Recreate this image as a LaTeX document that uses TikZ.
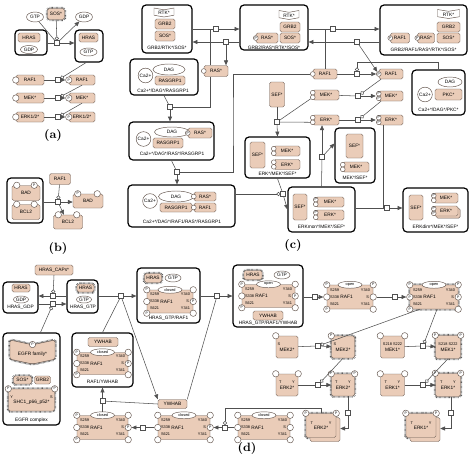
\documentclass[tikz,border=0pt]{standalone}
\usepackage{fontspec}
\newfontfamily\sbgnfont{Liberation Sans}
\usetikzlibrary{positioning, arrows.meta, shapes.geometric, calc, shadows}
\definecolor{molfill}{RGB}{234,204,184}
\definecolor{molline}{RGB}{100,86,78}
\definecolor{linec}{RGB}{80,80,80}
\definecolor{halocol}{RGB}{95,95,95}
\newcommand{\molfont}{\sbgnfont\fontsize{3.6}{4.1}\selectfont}
\newcommand{\svfont}{\sbgnfont\fontsize{2.6}{3}\selectfont}
\newcommand{\sitefont}{\sbgnfont\fontsize{2.9}{3.3}\selectfont}
% RAF1 with its sites
\newcommand{\rafbody}[4]{%
  \node[mol, wh={52}{24}, #3] (#1) at (#2) {};
  \node[site, anchor=west] (#1-s259) at ($(#1.west)+(3,-7)$) {S259};
  \node[site, anchor=east] (#1-y340) at ($(#1.east)+(-3,-7)$) {Y340};
  \node[site, anchor=west] (#1-s338) at ($(#1.west)+(3,0)$) {S338};
  \node[lbl, anchor=west] (#1-name) at (#1-s338.east) {\,RAF1};
  \node[site, anchor=east] (#1-s) at ($(#1.east)+(-4,0)$) {S};
  \node[site, anchor=west] (#1-s621) at ($(#1.west)+(3,7)$) {S621};
  \node[site, anchor=east] (#1-y341) at ($(#1.east)+(-3,7)$) {Y341};
  \node[simple, wh={24}{7}, font=\sitefont] (#1-conf) at (#1.north) {#4};
}
\newcommand{\rafstates}[7]{%
  \node[sv] (#1-tl) at (#1.north west) {#2};
  \node[sv] (#1-tr) at (#1.north east) {#3};
  \node[sv] (#1-lm) at (#1.west) {#4};
  \node[sv] (#1-rm) at (#1.east) {#5};
  \node[sv] (#1-bl) at (#1.south west) {#6};
  \node[sv] (#1-br) at (#1.south east) {#7};
}
\newcommand{\twosv}[3]{%
  \node[svs] (#1-a) at ($(#1.west)+(0,-2.3)$) {#2};
  \node[svs] (#1-b) at ($(#1.west)+(0,2.3)$) {#3};
}
\newcommand{\sqmol}[5]{%
  \node[mol, wh={23}{22}, align=center, #3] (#1) at (#2) {{\sitefont #4}\\#5};
}
\newcommand{\receptor}[6]{%
  \coordinate (#1) at (#2);
  \draw[#5] ($(#1)+(-#3,-#4)$) -- ($(#1)+(0,-0.6*#4)$) -- ($(#1)+(#3,-#4)$) -- ($(#1)+(#3,0.6*#4)$) -- ($(#1)+(0,#4)$) -- ($(#1)+(-#3,0.6*#4)$) -- cycle;
  \node[lbl] (#1-t) at ($(#1)+(0,0.15*#4)$) {#6};
}

\begin{document}
\begin{tikzpicture}[x=0.75pt,y=0.75pt,yscale=-1,xscale=1,
  wh/.style 2 args={minimum width=#1*0.75pt, minimum height=#2*0.75pt},
  mol/.style={draw=molline, fill=molfill, rounded corners=1.2pt, inner sep=0pt, line width=0.35pt, font=\molfont},
  cplx/.style={draw=black, fill=white, rounded corners=3pt, line width=0.9pt, inner sep=0pt},
  simple/.style={ellipse, draw=molline, fill=white, inner sep=0pt, line width=0.35pt, font=\molfont},
  ion/.style={circle, draw=molline, fill=white, inner sep=0pt, minimum size=11pt, line width=0.35pt, font=\molfont},
  sv/.style={circle, draw=molline, fill=white, inner sep=0pt, minimum size=4.8pt, line width=0.35pt, font=\svfont},
  svs/.style={sv, minimum size=3.6pt},
  site/.style={inner sep=0pt, font=\sitefont},
  lbl/.style={inner sep=0pt, font=\molfont},
  rcpt/.style={draw=molline, fill=white, line width=0.35pt},
  proc/.style={draw=linec, fill=white, inner sep=0pt, minimum size=3.4pt, line width=0.4pt},
  halo/.style={preaction={draw=halocol, line width=2.3pt, dash pattern=on 0.4pt off 0.55pt}},
  conn/.style={draw=linec, line width=0.4pt},
  prod/.style={conn, -{Triangle[length=3.6pt, width=3pt]}},
  catal/.style={conn, -{Circle[open, length=3pt]}},
  panel/.style={inner sep=0pt, font=\bfseries\fontsize{9}{10}\selectfont}]
\path[use as bounding box, fill=white] (0,0) rectangle (474,472);

%%% Panel (a)
%Shape: Complex
\node[cplx, wh={32}{25}] (a-gdpc) at (31,42.5) {};
\node[mol, wh={22}{9}] (a-hras1) at (29,37.5) {HRAS};
\node[simple, wh={17}{8}] (a-gdp1) at (29,49.5) {GDP};
%Shape: Complex
\node[cplx, wh={28}{32}] (a-gtpc) at (89,46) {};
\node[mol, wh={19}{9}] (a-hras2) at (88.5,37.5) {HRAS};
\node[simple, wh={17}{8}] (a-gtp2) at (88.5,52) {GTP};
\node[mol, halo, wh={17}{11}] (a-sos) at (56,14) {SOS*};
\node[simple, wh={17}{10}] (a-gtp) at (35,17) {GTP};
\node[simple, wh={17}{10}] (a-gdp) at (84,17) {GDP};
\node[proc] (a-p0) at (57,43) {};
\draw[conn] (a-gdpc.east |- a-p0) -- (a-p0);
\draw[prod] (a-p0) -- (a-p0 -| a-gtpc.west);
\draw[conn] (a-gtp) -- (a-p0);
\draw[prod] (a-p0) -- (a-gdp);
\draw[catal] (a-sos) -- (a-p0);
% RAF1 row
\node[mol, wh={28}{10}] (a-raf) at (30,80) {RAF1};
\node[sv] (a-raf-s) at (a-raf.west) {};
\node[proc] (a-p1) at (58,80) {};
\node[mol, wh={26}{10}] (a-rafp) at (82,80) {RAF1};
\node[sv] (a-rafp-s) at (a-rafp.west) {P};
\draw[conn] (a-raf) -- (a-p1);
\draw[prod] (a-p1) -- (a-rafp-s);
\draw[catal] ($(a-gtpc.south)+(-3,0)$) -- (a-p1);
% MEK row
\node[mol, wh={28}{10}] (a-mek) at (30,98) {MEK*};
\node[sv] (a-mek-s) at (a-mek.west) {};
\node[proc] (a-p2) at (58,98) {};
\node[mol, wh={26}{10}] (a-mekp) at (82,98) {MEK*};
\node[sv] (a-mekp-s) at (a-mekp.west) {P};
\draw[conn] (a-mek) -- (a-p2);
\draw[prod] (a-p2) -- (a-mekp-s);
\draw[catal] (a-rafp.south) -- (a-p2);
% ERK row
\node[mol, wh={28}{10}] (a-erk) at (30,117) {ERK1/2*};
\node[sv] (a-erk-s) at (a-erk.west) {};
\node[proc] (a-p3) at (58,117) {};
\node[mol, wh={26}{10}] (a-erkp) at (82,117) {ERK1/2*};
\node[sv] (a-erkp-s) at (a-erkp.west) {P};
\draw[conn] (a-erk) -- (a-p3);
\draw[prod] (a-p3) -- (a-erkp-s);
\draw[catal] (a-mekp.south) -- (a-p3);
% Text Node
\node[panel] (a-lbl) at (53,135) {(a)};

%%% Panel (b)
\node[cplx, wh={36}{45}] (b-cx) at (25,200.5) {};
\node[mol, wh={28}{15}] (b-bad1) at (26,193) {BAD};
\node[sv] (b-bad1-a) at ($(b-bad1.north west)+(5,0)$) {};
\node[sv] (b-bad1-b) at ($(b-bad1.north east)+(-6,0)$) {P};
\node[mol, wh={28}{15}] (b-bcl1) at (26,212) {BCL2};
\node[sv] (b-bcl1-a) at ($(b-bcl1.north west)+(5,0)$) {};
\node[sv] (b-bcl1-b) at ($(b-bcl1.north east)+(-6,0)$) {};
\node[mol, wh={21}{11}] (b-raf) at (60,179) {RAF1};
\node[proc] (b-p) at (58,202) {};
\node[mol, wh={30}{14}] (b-bad2) at (88,201) {BAD};
\node[sv] (b-bad2-a) at ($(b-bad2.north west)+(5,0)$) {P};
\node[sv] (b-bad2-b) at ($(b-bad2.north east)+(-6,0)$) {};
\node[mol, wh={29}{14}] (b-bcl2) at (68,222) {BCL2};
\node[sv] (b-bcl2-a) at ($(b-bcl2.north west)+(5,0)$) {};
\node[sv] (b-bcl2-b) at ($(b-bcl2.north east)+(-6,0)$) {};
\draw[conn] (b-cx.east |- b-p) -- (b-p);
\draw[prod] (b-p) -- (b-bad2.west |- b-p);
\draw[prod] (b-p) -- ($(b-bcl2.north)+(-4,0)$);
\draw[catal] (b-raf) -- (b-p);
% Text Node
\node[panel] (b-lbl) at (58,248) {(b)};

%%% Panel (c)
%Shape: Complex GRB2/RTK*/SOS*
\node[cplx, wh={50}{48}] (c-gs) at (167,29) {};
\receptor{c-rtk1}{164,12.5}{10}{4.5}{rcpt}{RTK*}
\node[mol, wh={20}{10}] (c-grb1) at (165,24) {GRB2};
\node[mol, wh={20}{10}] (c-sos1) at (165,36) {SOS*};
\node[lbl] (c-gs-l) at (167,47.5) {GRB2/RTK*/SOS*};
%Shape: Complex GRB2/RAS*/RTK*/SOS*
\node[cplx, wh={68}{45}] (c-grs) at (274,27.5) {};
\receptor{c-rtk2}{289,15}{10}{4.5}{rcpt}{RTK*}
\node[mol, wh={20}{10}] (c-grb2) at (290,27) {GRB2};
\node[mol, wh={20}{10}] (c-sos2) at (290,38) {SOS*};
\node[mol, wh={22}{10}] (c-ras1) at (267,38) {RAS*};
\node[svs] (c-ras1-s) at (c-ras1.west) {P};
\node[lbl] (c-grs-l) at (274,47.5) {GRB2/RAS*/RTK*/SOS*};
%Shape: Complex GRB2/RAF1/RAS*/RTK*/SOS*
\node[cplx, wh={87}{50}] (c-bigc) at (423.5,30) {};
\receptor{c-rtk3}{448.5,14}{11}{4.5}{rcpt}{RTK*}
\node[mol, wh={23}{10}] (c-grb3) at (448.5,27) {GRB2};
\node[mol, wh={23}{10}] (c-sos3) at (448.5,38) {SOS*};
\node[mol, wh={19}{10}] (c-raf4) at (400,38) {RAF1};
\node[svs] (c-raf4-s) at (c-raf4.west) {P};
\node[mol, wh={17}{10}] (c-ras4) at (426,38) {RAS*};
\node[svs] (c-ras4-s) at (c-ras4.west) {P};
\node[lbl] (c-bigc-l) at (423.5,50) {GRB2/RAF1/RAS*/RTK*/SOS*};
% RAS*
\node[mol, wh={24}{11}] (c-ras) at (216,71) {RAS*};
\node[svs] (c-ras-s) at (c-ras.west) {};
\node[proc] (c-p1) at (216,29) {};
\node[proc] (c-p2) at (226,42) {};
\draw[conn] (c-gs.east |- c-p1) -- (c-p1);
\draw[prod] (c-p1) -- (c-p1 -| c-grs.west);
\draw[conn] (c-grs.west |- c-p2) -- (c-p2);
\draw[prod] (c-p2) -- (c-p2 -| c-gs.east);
\draw[prod] (c-p2) -- (c-p2 |- c-ras.north);
\draw[conn] ($(c-ras.north)+(-6,0)$) |- (c-p1);
%Shape: Complex Ca2+*/DAG*/RASGRP1
\node[cplx, wh={68}{36}] (c-cdr) at (164,77) {};
\node[simple, wh={32}{11}] (c-dag1) at (169,69.5) {DAG};
\node[mol, wh={30}{9}] (c-rg1) at (170,80.5) {RASGRP1};
\node[ion] (c-ca1) at (145.5,75.5) {Ca2+};
\node[lbl] (c-cdr-l) at (163,90.5) {Ca2+*/DAG*/RASGRP1};
\node[proc] (c-p3) at (170,107) {};
\draw[conn] (c-cdr.south) -- (c-p3);
\draw[conn] ($(c-ras.south)+(-6,0)$) |- (c-p3);
%Shape: Complex Ca2+*/DAG*/RAS*/RASGRP1
\node[cplx, wh={85}{38}] (c-crr) at (171.5,141) {};
\node[simple, wh={35}{10}] (c-dag2) at (172,132) {DAG};
\node[mol, wh={24}{10}] (c-ras2) at (200,133) {RAS*};
\node[svs] (c-ras2-s) at (c-ras2.west) {P};
\node[mol, wh={30}{10}] (c-rg2) at (168,143) {RASGRP1};
\node[ion] (c-ca2) at (143.5,139) {Ca2+};
\node[lbl] (c-crr-l) at (172,154) {Ca2+*/DAG*/RAS*/RASGRP1};
\draw[prod] (c-p3) -- (c-p3 |- c-crr.north);
\node[proc] (c-p4) at (177,172) {};
\draw[conn] (c-crr.south) -- (c-p4);
%Shape: Complex Ca2+*/DAG*/RAF1/RAS*/RASGRP1
\node[cplx, wh={107}{42}] (c-crrr) at (181.5,206) {};
\node[simple, wh={35}{11}] (c-dag3) at (176,196.5) {DAG};
\node[mol, wh={32}{9}] (c-rg3) at (176,207.5) {RASGRP1};
\node[mol, wh={22}{9}] (c-ras3) at (205,196.5) {RAS*};
\node[svs] (c-ras3-s) at (c-ras3.west) {};
\node[mol, wh={22}{9}] (c-raf3) at (205,207.5) {RAF1};
\node[svs] (c-raf3-s) at (c-raf3.west) {};
\node[ion] (c-ca3) at (150,201) {Ca2+};
\node[lbl] (c-crrr-l) at (182,222) {Ca2+*/DAG*/RAF1/RAS*/RASGRP1};
\draw[prod] (c-p4) -- (c-p4 |- c-crrr.north);
% RAF1, MEK*, ERK* and their phosphorylation
\node[mol, wh={24}{10}] (c-raf) at (325,74) {RAF1};
\node[svs] (c-raf-s) at (c-raf.west) {};
\node[mol, wh={26}{10}] (c-mek1) at (326,95) {MEK*};
\twosv{c-mek1}{}{}
\node[mol, wh={26}{10}] (c-erk1) at (326,120) {ERK*};
\twosv{c-erk1}{}{}
\node[mol, wh={24}{10}] (c-rafp) at (391,74) {RAF1};
\node[svs] (c-rafp-s) at (c-rafp.west) {P};
\node[mol, wh={24}{10}] (c-mekp) at (391,96) {MEK*};
\twosv{c-mekp}{P}{P}
\node[mol, wh={24}{10}] (c-erkp) at (391,120) {ERK*};
\twosv{c-erkp}{P}{P}
\coordinate (c-k1) at (233,120);
\draw[conn] (c-raf-s.west) -| (c-k1) |- (c-p4);
\node[proc] (c-p9) at (333,29) {};
\node[proc] (c-p8) at (357,42) {};
\draw[conn] (c-grs.east |- c-p9) -- (c-p9);
\draw[prod] (c-p9) -- (c-p9 -| c-bigc.west);
\draw[conn] (c-raf.north) |- (c-p9);
\draw[conn] (c-bigc.west |- c-p8) -- (c-p8);
\draw[prod] (c-p8) -- (c-p8 -| c-grs.east);
\draw[prod] (c-p8) -- (c-rafp-s);
%Shape: Complex Ca2+*/DAG*/PKC*
\node[cplx, wh={53}{45}] (c-pkc) at (438.5,92.5) {};
\node[simple, wh={24}{10}] (c-dag4) at (450,82) {DAG};
\node[mol, wh={27}{11}] (c-pkc1) at (448.5,94.5) {PKC*};
\node[ion] (c-ca4) at (425,94.5) {Ca2+};
\node[lbl] (c-pkc-l) at (438.5,110) {Ca2+*/DAG*/PKC*};
\node[proc] (c-p7) at (357,74) {};
\draw[conn] (c-raf) -- (c-p7);
\draw[prod] (c-p7) -- (c-rafp-s);
\draw[catal] (c-pkc.north) |- ($(c-p7.north)+(0,-9)$) -- (c-p7.north);
\node[proc] (c-p10) at (358,96) {};
\draw[conn] (c-mek1) -- (c-p10);
\draw[prod] (c-p10) -- ($(c-mekp.west)+(-3,0)$);
\draw[catal] ($(c-rafp.south)+(-10,0)$) -- (c-p10);
\node[proc] (c-p11) at (358,120) {};
\draw[conn] (c-erk1) -- (c-p11);
\draw[prod] (c-p11) -- ($(c-erkp.west)+(-3,0)$);
\draw[catal] ($(c-mekp.south)+(-10,0)$) -- (c-p11);
% SEF*
\node[mol, wh={15}{25}] (c-sef1) at (277,94.5) {SEF*};
%Shape: Complex ERK*/MEK*/SEF*
\node[cplx, wh={65}{41}] (c-es) at (277.5,157.5) {};
\node[mol, wh={15}{26}] (c-sef2) at (257.5,155) {SEF*};
\node[mol, wh={26}{10}] (c-mek2) at (287,151) {MEK*};
\twosv{c-mek2}{}{}
\node[mol, wh={26}{10}] (c-erk2) at (287,164.5) {ERK*};
\twosv{c-erk2}{}{}
\node[lbl] (c-es-l) at (277.5,173.5) {ERK*/MEK*/SEF*};
\node[proc] (c-p6) at (277,122) {};
\draw[conn] (c-sef1) -- (c-p6);
\draw[conn] (c-mek1-b) -- (c-p6);
\draw[conn] (c-erk1-b) -- (c-p6);
\draw[prod] (c-p6) -- (c-es.north);
%Shape: Complex MEK*/SEF*
\node[cplx, wh={40}{55}] (c-ms) at (355,155.5) {};
\node[mol, wh={17}{24}] (c-sef3) at (354.5,146) {SEF*};
\node[mol, wh={26}{10}] (c-mek3) at (356,167) {MEK*};
\twosv{c-mek3}{}{}
\node[lbl] (c-ms-l) at (355,178) {MEK*/SEF*};
%Shape: Complex ERKmon*/MEK*/SEF*
\node[cplx, wh={67}{45}] (c-emon) at (321.5,209.5) {};
\node[mol, wh={14}{26}] (c-sef4) at (300,207) {SEF*};
\node[mol, wh={28}{10}] (c-mek4) at (330,202) {MEK*};
\twosv{c-mek4}{P}{}
\node[mol, wh={28}{10}] (c-erk4) at (330,215) {ERK*};
\twosv{c-erk4}{P}{}
\node[lbl] (c-emon-l) at (321.5,227) {ERKmon*/MEK*/SEF*};
\node[proc] (c-p12) at (322,157) {};
\draw[conn] (c-emon.north) -- (c-p12);
\draw[prod] (c-p12) -- (c-p12 |- c-erk1.south);
\draw[prod] (c-p12) -- ($(c-ms.west)+(0,-12)$);
\node[proc] (c-p5) at (283,194) {};
\draw[conn] (c-es.south) -- (c-p5);
\draw[catal] (c-crrr.east |- c-p5) -- (c-p5);
\draw[prod] (c-p5) -- (c-emon.west);
%Shape: Complex ERKdim*/MEK*/SEF*
\node[cplx, wh={65}{44}] (c-edim) at (435.5,210) {};
\node[mol, wh={14}{25}] (c-sef5) at (416,207.5) {SEF*};
\node[mol, wh={24}{10}] (c-mek5) at (446,198) {MEK*};
\twosv{c-mek5}{P}{}
\node[mol, wh={24}{10}, copy shadow={shadow xshift=1.6pt, shadow yshift=-1.6pt}] (c-erk5) at (446,211) {ERK*};
\twosv{c-erk5}{P}{P}
\node[lbl] (c-edim-l) at (435.5,227) {ERKdim*/MEK*/SEF*};
\node[proc] (c-p13) at (387,208) {};
\draw[conn] (c-emon.east |- c-p13) -- (c-p13);
\draw[conn] ($(c-erkp.south west)+(4,0)$) |- (c-p13);
\draw[prod] (c-p13) -- (c-p13 -| c-edim.west);
% Text Node
\node[panel] (c-lbl) at (293,245) {(c)};

%%% Panel (d)
\node[mol, wh={38}{10}] (d-caps) at (54,270) {HRAS\_CAPs*};
%Shape: Complex HRAS_GDP
\node[cplx, wh={35}{31}] (d-gdpc) at (20.5,297.5) {};
\node[mol, wh={18}{8}] (d-hras1) at (21,288) {HRAS};
\node[simple, wh={15}{7}] (d-gdp1) at (21,299.5) {GDP};
\node[lbl] (d-gdpc-l) at (20.5,307.5) {HRAS\_GDP};
%Shape: Complex HRAS_GTP
\node[cplx, wh={31}{33}] (d-gtpc) at (82.5,296.5) {};
\node[mol, halo, wh={17}{8}] (d-hras2) at (85.5,288) {HRAS};
\node[simple, wh={15}{7}] (d-gtp2) at (84,299.5) {GTP};
\node[lbl] (d-gtpc-l) at (83,307.5) {HRAS\_GTP};
%Shape: Complex EGFR
\node[cplx, wh={57}{92}] (d-egfr) at (31.5,379) {};
\receptor{d-egf}{32.5,352}{22.5}{12}{mol, halo}{EGFR family*}
\node[sv] (d-egf-p) at (32.5,344.5) {P};
\node[mol, halo, wh={18}{8}] (d-sos) at (22.5,380) {SOS*};
\node[mol, wh={16}{8}] (d-grb) at (42.5,380) {GRB2};
\node[mol, halo, wh={46}{22}, align=center] (d-shc) at (31.5,400) {{\sitefont Y\hspace*{28pt}S}\\SHC1\_p66\_p52*};
\node[sv] (d-shc-a) at (d-shc.north west) {P};
\node[sv] (d-shc-b) at (d-shc.north east) {P};
\node[lbl] (d-egfr-l) at (31.5,420.5) {EGFR complex};
\node[proc] (d-p1) at (53,296) {};
\node[proc] (d-p2) at (53,304) {};
\draw[conn] (d-gtpc.west |- d-p1) -- (d-p1);
\draw[prod] (d-p1) -- (d-p1 -| d-gdpc.east);
\draw[conn] (d-gdpc.east |- d-p2) -- (d-p2);
\draw[prod] (d-p2) -- (d-p2 -| d-gtpc.west);
\draw[catal] (d-caps.south) -- (d-p1);
\draw[catal] ($(d-egfr.north)+(9,0)$) -- (d-p2);
%Shape: Complex HRAS_GTP/RAF1
\node[cplx, wh={63}{55}] (d-grc) at (168.5,295.5) {};
\node[mol, halo, wh={17}{9}] (d-hras3) at (153,278) {HRAS};
\node[simple, wh={16}{8}] (d-gtp3) at (173,278) {GTP};
\rafbody{d-raf1}{170,301.5}{wh={46}{23}}{closed}
\rafstates{d-raf1}{P}{}{}{P}{P}{}
\node[lbl] (d-grc-l) at (168.5,318.5) {HRAS\_GTP/RAF1};
%Shape: Complex RAF1/YWHAB
\node[cplx, wh={61}{54}] (d-ry) at (102.5,360) {};
\node[mol, wh={30}{9}] (d-yw3) at (103,342) {YWHAB};
\rafbody{d-raf10}{102.5,363.5}{wh={51}{22}}{closed}
\rafstates{d-raf10}{P}{}{}{P}{P}{}
\node[lbl] (d-ry-l) at (102.5,381.5) {RAF1/YWHAB};
\node[mol, wh={29}{9}] (d-yw2) at (172.5,404) {YWHAB};
\node[proc] (d-p3) at (121,296) {};
\draw[conn] (d-gtpc.east |- d-p3) -- (d-p3);
\draw[prod] (d-p3) -- (d-p3 -| d-grc.west);
\draw[conn] (d-ry.north) -- (d-p3);
\draw[prod] (d-p3) -- (d-yw2.north west);
%Shape: Complex HRAS_GTP/RAF1/YWHAB
\node[cplx, wh={70}{62}] (d-grcy) at (268,296) {};
\node[mol, halo, wh={18}{9}] (d-hras4) at (253,275) {HRAS};
\node[simple, wh={16}{8}] (d-gtp4) at (282,275) {GTP};
\rafbody{d-raf2}{268.5,296}{wh={53}{23}}{open}
\rafstates{d-raf2}{P}{}{}{P}{P}{}
\node[mol, wh={30}{9}] (d-yw1) at (268,315.5) {YWHAB};
\node[lbl] (d-grcy-l) at (268,323.5) {HRAS\_GTP/RAF1/YWHAB};
\node[proc] (d-p4) at (217,296) {};
\draw[conn] (d-grc.east |- d-p4) -- (d-p4);
\draw[prod] (d-p4) -- (d-p4 -| d-grcy.west);
\draw[conn] (d-yw2.north east) -- (d-p4);
% free RAF1
\rafbody{d-raf5}{350,297}{wh={46}{24}}{open}
\rafstates{d-raf5}{P}{P}{}{}{P}{}
\rafbody{d-raf6}{434,297}{wh={48}{24}, halo}{open}
\rafstates{d-raf6}{P}{P}{P}{P}{P}{}
\node[proc] (d-p5) at (315,297) {};
\draw[conn] (d-grcy.east |- d-p5) -- (d-p5);
\draw[prod] (d-p5) -- (d-raf5-lm);
\node[proc] (d-p6) at (395,297) {};
\draw[conn] (d-raf5-rm) -- (d-p6);
\draw[prod] (d-p6) -- (d-raf6-lm);
% MEK and ERK
\sqmol{d-mek2}{287,347}{wh={22}{22}}{\makebox[14pt][l]{S}}{MEK2*}
\node[sv] (d-mek2-tl) at (d-mek2.north west) {};
\sqmol{d-mek2p}{343,347}{halo}{\makebox[14pt][l]{S}}{MEK2*}
\node[sv] (d-mek2p-tl) at (d-mek2p.north west) {P};
\sqmol{d-mek1}{392.5,347}{wh={24}{22}}{S218 S222}{MEK1*}
\node[sv] (d-mek1-tl) at (d-mek1.north west) {};
\node[sv] (d-mek1-tr) at (d-mek1.north east) {};
\sqmol{d-mek1p}{448,347}{wh={25}{23}, halo}{S218 S222}{MEK1*}
\node[sv] (d-mek1p-tl) at (d-mek1p.north west) {P};
\node[sv] (d-mek1p-tr) at (d-mek1p.north east) {P};
\sqmol{d-erk2}{287,385}{wh={22}{22}}{T\hspace*{8pt}Y}{ERK2*}
\node[sv] (d-erk2-tl) at (d-erk2.north west) {};
\node[sv] (d-erk2-tr) at (d-erk2.north east) {};
\sqmol{d-erk2p}{343,385}{halo}{T\hspace*{8pt}Y}{ERK2*}
\node[sv] (d-erk2p-tl) at (d-erk2p.north west) {P};
\node[sv] (d-erk2p-tr) at (d-erk2p.north east) {P};
\sqmol{d-erk1}{392.5,385}{wh={24}{22}}{T\hspace*{8pt}Y}{ERK1*}
\node[sv] (d-erk1-tl) at (d-erk1.north west) {};
\node[sv] (d-erk1-tr) at (d-erk1.north east) {};
\sqmol{d-erk1p}{448,385}{wh={25}{23}, halo}{T\hspace*{8pt}Y}{ERK1*}
\node[sv] (d-erk1p-tl) at (d-erk1p.north west) {P};
\node[sv] (d-erk1p-tr) at (d-erk1p.north east) {P};
\node[proc] (d-p7) at (318,346) {};
\node[proc] (d-p8) at (423,346) {};
\node[proc] (d-p9) at (318,385) {};
\node[proc] (d-p10) at (423,385) {};
\draw[conn] (d-mek2) -- (d-p7);
\draw[prod] (d-p7) -- (d-mek2p);
\draw[conn] (d-mek1) -- (d-p8);
\draw[prod] (d-p8) -- (d-mek1p);
\draw[conn] (d-erk2) -- (d-p9);
\draw[prod] (d-p9) -- (d-erk2p);
\draw[conn] (d-erk1) -- (d-p10);
\draw[prod] (d-p10) -- (d-erk1p);
\draw[catal] ($(d-raf6.south west)+(10,0)$) -- (d-p7);
\draw[catal] ($(d-raf6.south)+(3,0)$) -- (d-p8);
\draw[catal] (d-mek2p.south) -- (d-p9);
\draw[catal] (d-mek1p.south) -- (d-p10);
% ERK dimers
\sqmol{d-edim2}{321,425.5}{wh={30}{24}, halo, copy shadow={shadow xshift=3pt, shadow yshift=-3pt}}{T\hspace*{12pt}Y}{ERK2*}
\node[sv] (d-edim2-tl) at (d-edim2.north west) {P};
\node[sv] (d-edim2-tr) at (d-edim2.north east) {P};
\sqmol{d-edim1}{421,425.5}{wh={30}{24}, halo, copy shadow={shadow xshift=3pt, shadow yshift=-3pt}}{T\hspace*{12pt}Y}{ERK1*}
\node[sv] (d-edim1-tl) at (d-edim1.north west) {P};
\node[sv] (d-edim1-tr) at (d-edim1.north east) {P};
\node[proc] (d-p11) at (348,413) {};
\draw[conn] ($(d-erk2p.south)+(5,0)$) -- (d-p11);
\draw[prod] (d-p11) |- ($(d-edim2.east)+(4,3)$);
\node[proc] (d-p12) at (451,413) {};
\draw[conn] ($(d-erk1p.south)+(3,0)$) -- (d-p12);
\draw[prod] (d-p12) |- ($(d-edim1.east)+(4,3)$);
% RAF1 back to YWHAB
\rafbody{d-raf7}{264,427.5}{}{closed}
\rafstates{d-raf7}{}{}{}{}{}{}
\rafbody{d-raf8}{184,427.5}{}{closed}
\rafstates{d-raf8}{}{}{}{P}{}{}
\rafbody{d-raf9}{102.5,427.5}{wh={51}{24}}{closed}
\rafstates{d-raf9}{P}{}{}{P}{P}{}
\node[proc] (d-p13) at (225,427.5) {};
\draw[conn] (d-raf7-lm) -- (d-p13);
\draw[prod] (d-p13) -- (d-raf8-rm);
\draw[catal] (d-edim2.north) |- ($(d-p13.north)+(0,-17)$) -- (d-p13.north);
\node[proc] (d-p14) at (143,427.5) {};
\draw[conn] (d-raf8-lm) -- (d-p14);
\draw[prod] (d-p14) -- (d-raf9-rm);
\node[proc] (d-p15) at (102.5,401) {};
\draw[conn] (d-raf9-conf) -- (d-p15);
\draw[conn] (d-yw2.west) -- (d-p15);
\draw[prod] (d-p15) -- (d-p15 |- d-ry.south);
% Text Node
\node[panel] (d-lbl) at (247,448) {(d)};

\end{tikzpicture}
\end{document}
